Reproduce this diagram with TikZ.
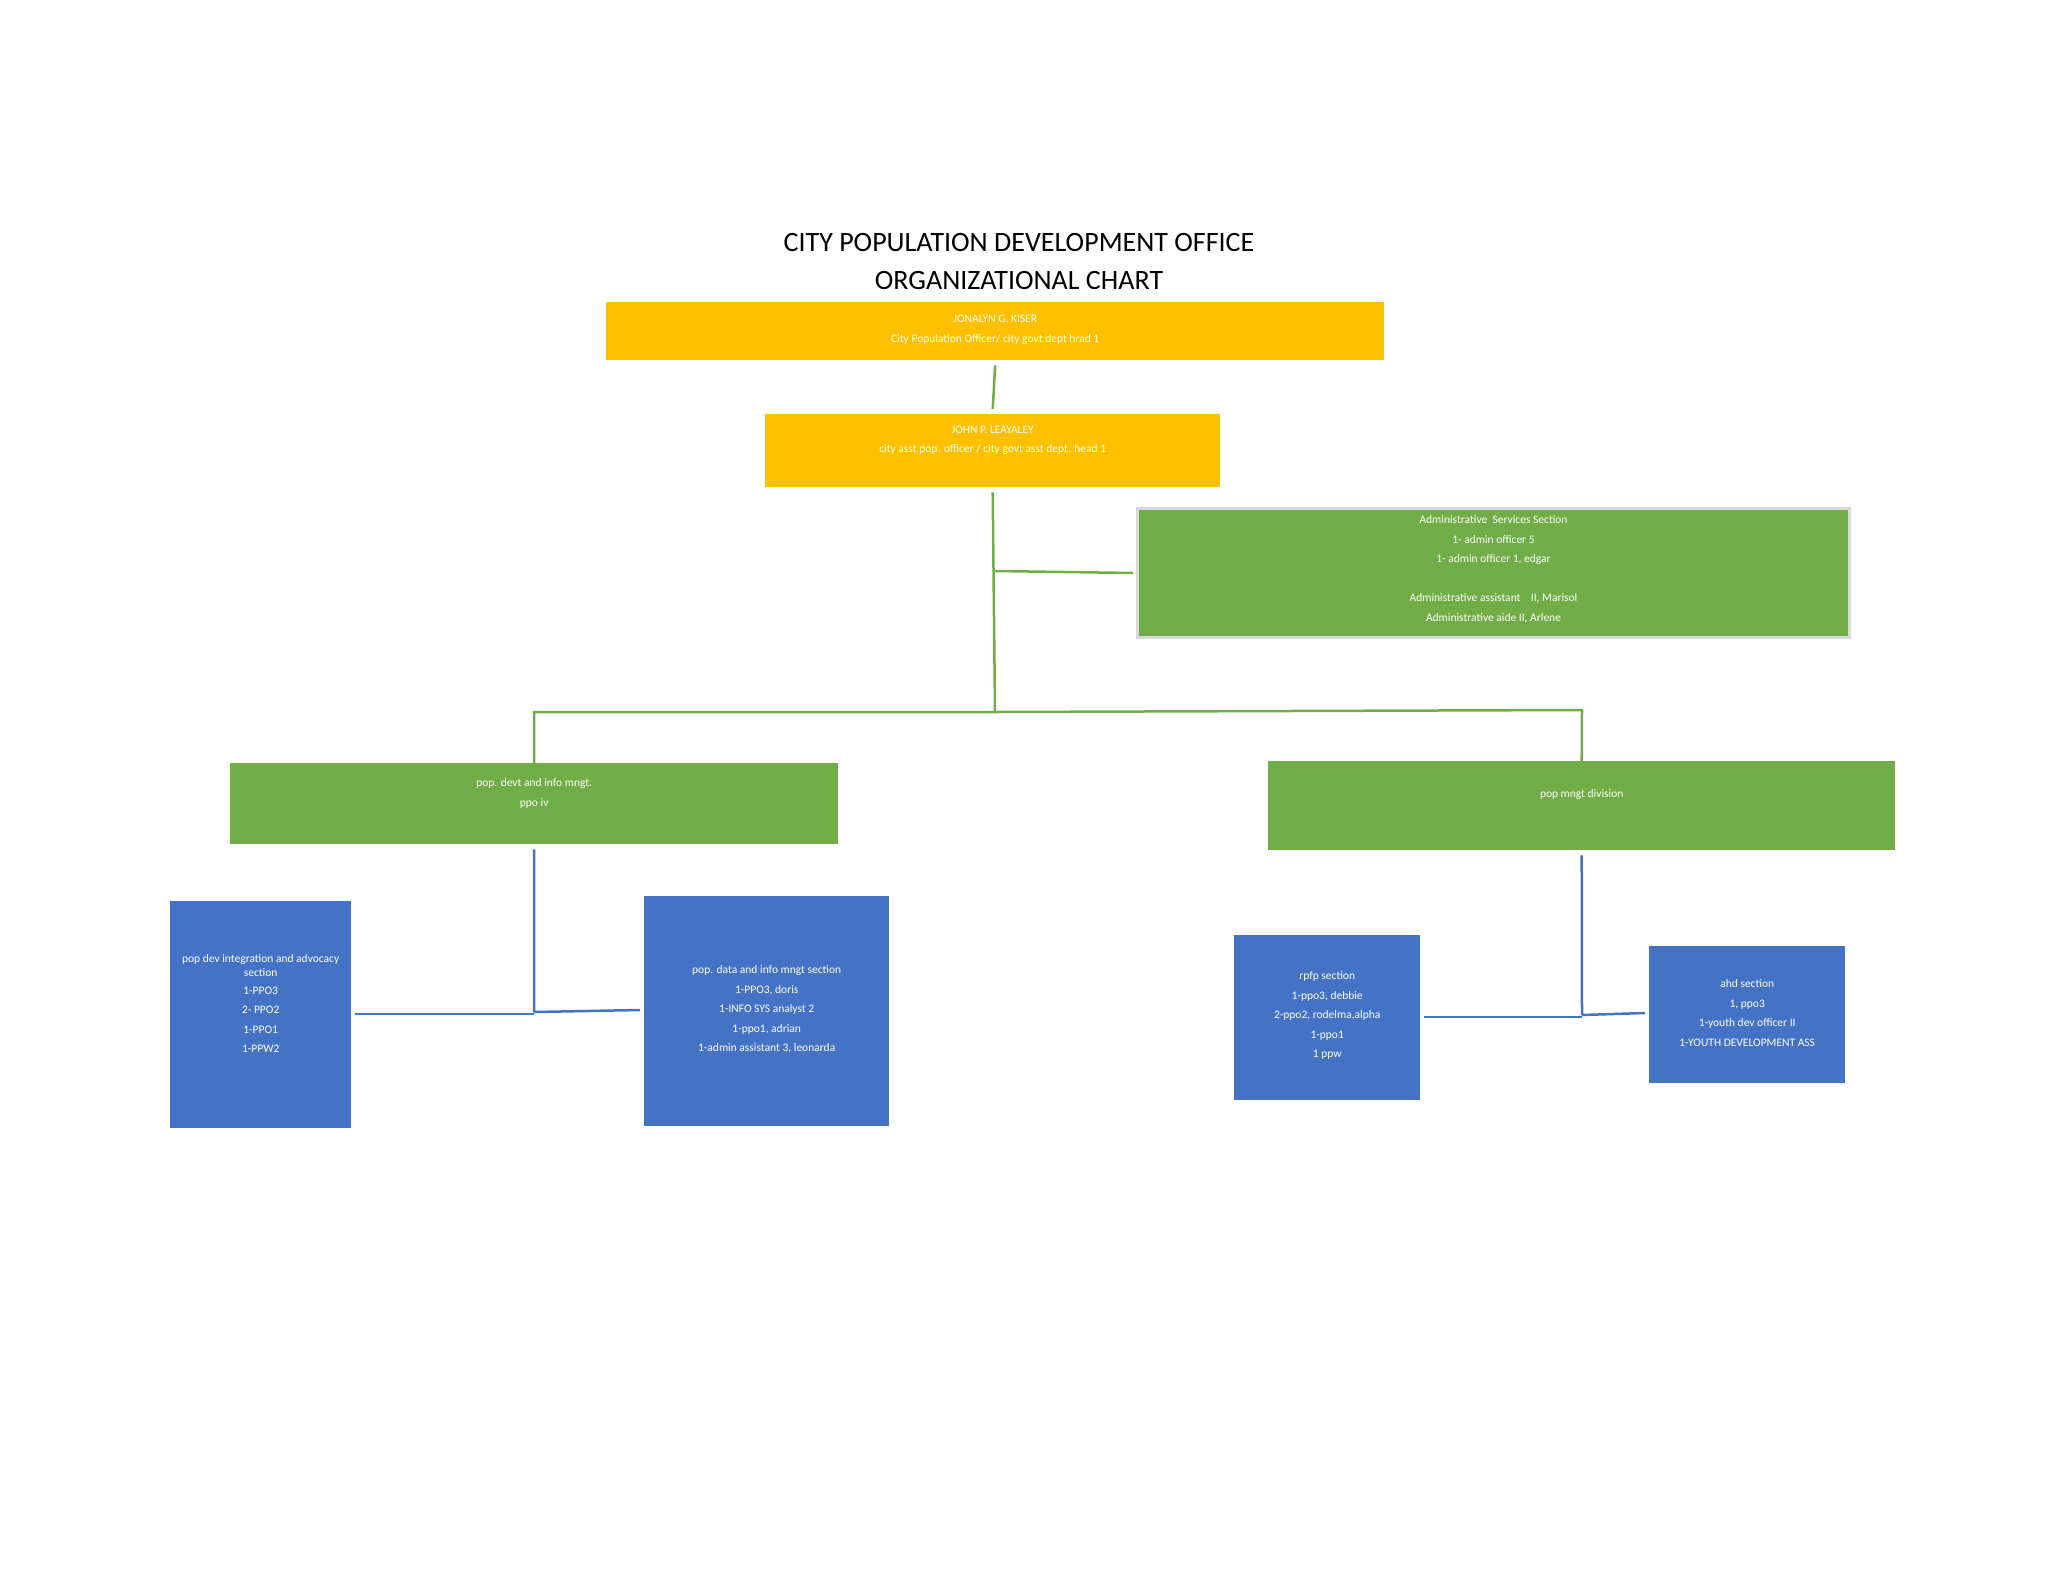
\documentclass[tikz,border=0pt]{standalone}
\usepackage{fontspec}
\setmainfont{Carlito}
\usetikzlibrary{positioning}
\definecolor{gold}{HTML}{FFC000}
\definecolor{leaf}{HTML}{70AD47}
\definecolor{sky}{HTML}{4472C4}

\begin{document}
\begin{tikzpicture}[x=1pt,y=-1pt,
  box/.style={rectangle, inner sep=0pt, anchor=north west},
  txt/.style={anchor=north, align=center, text=white, font=\fontsize{11.5}{19.6}\selectfont},
  gline/.style={draw=leaf, line width=2.5pt},
  bline/.style={draw=sky, line width=2.5pt}]

\useasboundingbox (0,0) rectangle (2048,1582);

% TITLE
\node [align=center, font=\fontsize{28}{38}\selectfont] (titulo) at (1019,262) {CITY POPULATION DEVELOPMENT OFFICE\\ORGANIZATIONAL CHART};

% HEADS
\node [box, fill=gold, minimum width=778pt, minimum height=58pt] (kiser) at (606,302) {};
\node [txt] at ([yshift=-10pt]kiser.north) {JONALYN G. KISER\\City Population Officer/ city govt dept hrad 1};

\node [box, fill=gold, minimum width=455pt, minimum height=73pt] (leayaley) at (765,414) {};
\node [txt] at ([yshift=-8pt]leayaley.north) {JOHN P. LEAYALEY\\city asst pop. officer / city govt asst dept. head 1};

\node [box, fill=leaf, draw=gray!30, line width=3pt, minimum width=712pt, minimum height=129pt] (admin) at (1136,507) {};
\node [txt] at ([yshift=-5pt]admin.north) {Administrative\ \ Services Section\\1- admin officer 5\\1- admin officer 1, edgar\\[19.6pt]Administrative assistant\ \ \ \ II, Marisol\\Administrative aide II, Arlene};

% DIVISIONS
\node [box, fill=leaf, minimum width=608pt, minimum height=81pt] (info) at (230,763) {};
\node [txt] at ([yshift=-12pt]info.north) {pop. devt and info mngt.\\ppo iv};

\node [box, fill=leaf, minimum width=627pt, minimum height=89pt] (mngt) at (1268,761) {};
\node [txt] at ([yshift=-25pt]mngt.north) {pop mngt division};

% SECTIONS
\node [box, fill=sky, minimum width=181pt, minimum height=227pt] (advocacy) at (170,901) {};
\node [txt, font=\fontsize{11.5}{14}\selectfont] at ([yshift=-50pt]advocacy.north) {pop dev integration and advocacy\\section};
\node [txt] at ([yshift=-82pt]advocacy.north) {1-PPO3\\2- PPO2\\1-PPO1\\1-PPW2};

\node [box, fill=sky, minimum width=245pt, minimum height=230pt] (datainfo) at (644,896) {};
\node [txt] at ([yshift=-66pt]datainfo.north) {pop. data and info mngt section\\1-PPO3, doris\\1-INFO SYS analyst 2\\1-ppo1, adrian\\1-admin assistant 3, leonarda};

\node [box, fill=sky, minimum width=186pt, minimum height=165pt] (rpfp) at (1234,935) {};
\node [txt] at ([yshift=-33pt]rpfp.north) {rpfp section\\1-ppo3, debbie\\2-ppo2, rodelma,alpha\\1-ppo1\\1 ppw};

\node [box, fill=sky, minimum width=196pt, minimum height=137pt] (ahd) at (1649,946) {};
\node [txt] at ([yshift=-30pt]ahd.north) {ahd section\\1, ppo3\\1-youth dev officer II\\1-YOUTH DEVELOPMENT ASS};

% CONNECTORS
\coordinate (tronco) at (995,712);
\draw [gline] ([yshift=-5pt]kiser.south) -- ([yshift=5pt]leayaley.north);
\draw [gline] ([yshift=-5pt]leayaley.south) -- (tronco);
\draw [gline] (995,571) -- ([xshift=-3pt]admin.west);
\draw [gline] (tronco) -- (534,712) -- (info.north);
\draw [gline] (tronco) -- (1582,710) -- (mngt.north);

\coordinate (ramo-esq) at (534,1012);
\draw [bline] ([yshift=-5pt]info.south) -- (ramo-esq);
\draw [bline] ([xshift=4pt]advocacy.east |- 0,1014) -- (534,1014);
\draw [bline] (ramo-esq) -- ([xshift=-4pt]datainfo.west |- 0,1010);

\coordinate (ramo-dir) at (1582,1015);
\draw [bline] ([yshift=-5pt]mngt.south) -- (ramo-dir);
\draw [bline] ([xshift=4pt]rpfp.east |- 0,1017) -- (1582,1017);
\draw [bline] (ramo-dir) -- ([xshift=-4pt]ahd.west |- 0,1013);

\end{tikzpicture}
\end{document}
